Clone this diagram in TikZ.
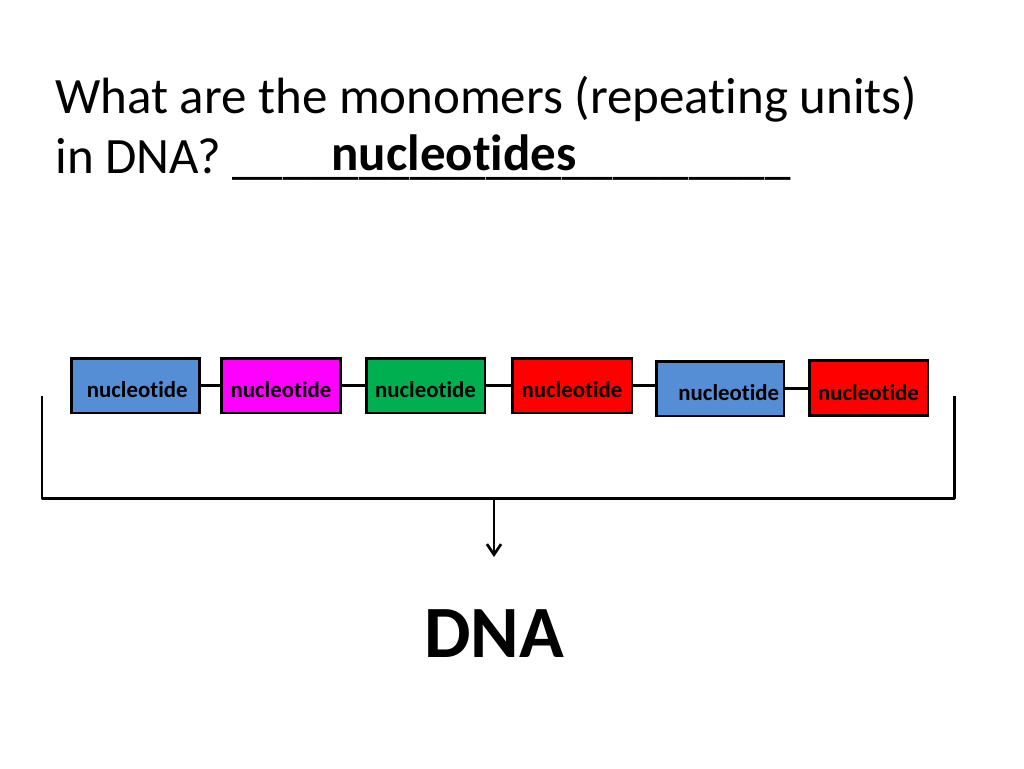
\documentclass[tikz,border=0pt]{standalone}
\usepackage{fontspec}
\setmainfont[RawFeature={-liga,-clig,-calt,-dlig}]{Carlito}
\usetikzlibrary{arrows.meta}
\definecolor{nucblue}{RGB}{85,142,213}
\definecolor{nucpink}{RGB}{255,0,255}
\definecolor{nucgreen}{RGB}{0,176,80}
\definecolor{nucred}{RGB}{255,0,0}
\begin{document}
\begin{tikzpicture}[x=0.02cm, y=-0.02cm,
  unit/.style={draw=black, line width=1.7pt, minimum height=1.1cm, inner sep=0pt, text height=14pt, text depth=0pt, font=\fontsize{13}{14}\selectfont\bfseries},
  link/.style={line width=1.5pt},
  brace/.style={line width=1.7pt, line join=round}]

\useasboundingbox (0,0) rectangle (1024,768);

\node [anchor=base west, inner sep=0pt, font=\fontsize{29}{34}\selectfont] (q1) at (55,113) {What are the monomers (repeating units)};
\node [anchor=base west, inner sep=0pt, font=\fontsize{29}{34}\selectfont] (q2) at (55,173) {in DNA? \_\_\_\_\_\_\_\_\_\_\_\_\_\_\_\_\_\_\_\_\_\_};
\node [anchor=base, inner sep=0pt, font=\fontsize{29}{34}\selectfont\bfseries] (ans) at (454,170) {nucleotides};

\node [unit, fill=nucblue, minimum width=2.58cm] (n1) at (135.5,385.5) {\hspace{2pt}nucleotide};
\node [unit, fill=nucpink, minimum width=2.40cm] (n2) at (281,385.5) {nucleotide};
\node [unit, fill=nucgreen, minimum width=2.38cm] (n3) at (425.5,385.5) {nucleotide};
\node [unit, fill=nucred, minimum width=2.40cm] (n4) at (572,385.5) {nucleotide};
\node [unit, fill=nucblue, minimum width=2.56cm] (n5) at (720,388.5) {\hspace{10pt}nucleotide};
\node [unit, fill=nucred, minimum width=2.38cm] (n6) at (868.5,388) {nucleotide};

\draw [link] (n1.east) -- (n1.east -| n2.west);
\draw [link] (n2.east) -- (n2.east -| n3.west);
\draw [link] (n3.east) -- (n3.east -| n4.west);
\draw [link] (n4.east) -- (n4.east -| n5.west);
\draw [link] (n5.east) -- (n5.east -| n6.west);

\coordinate (bl) at (42,396);
\coordinate (br) at (954,396);
\coordinate (mid) at (494,498);
\draw [brace] (bl) -- (bl |- mid) -- (br |- mid) -- (br);

\node [font=\fontsize{42}{48}\selectfont\bfseries, anchor=base, inner sep=0pt] (dna) at (494,657) {DNA};
\draw [line width=1.5pt, -{Straight Barb[length=6pt, width=8pt, line width=1.5pt]}] (mid) -- ++(0,59);

\end{tikzpicture}
\end{document}
